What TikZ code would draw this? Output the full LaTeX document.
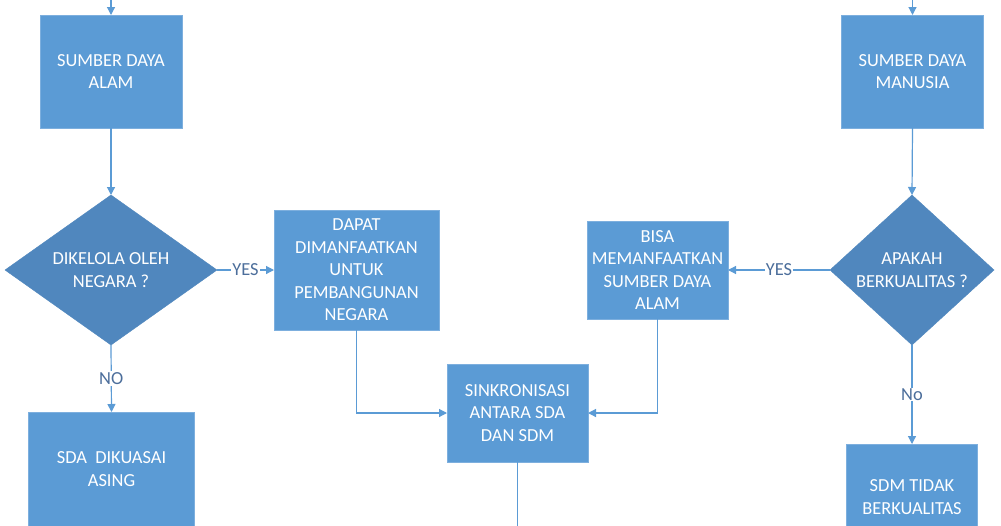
\documentclass[tikz,border=0pt]{standalone}
\usepackage{fontspec}
\setmainfont{Carlito}
\usetikzlibrary{shapes.geometric,arrows.meta}
\definecolor{boxfill}{RGB}{91,155,213}
\definecolor{boxline}{RGB}{125,175,222}
\definecolor{diafill}{RGB}{80,135,190}
\definecolor{conn}{RGB}{91,155,213}
\definecolor{lbltext}{RGB}{76,110,155}
\begin{document}
\begin{tikzpicture}[x=1pt,y=-1pt,
  font=\fontsize{18.4pt}{22.5pt}\selectfont,
  procbox/.style={rectangle,fill=boxfill,draw=boxline,line width=0.8pt,text=white,align=center,inner sep=0pt,outer sep=0pt},
  decbox/.style={diamond,fill=diafill,draw=diafill,text=white,align=center,inner sep=0pt,outer sep=0pt},
  conline/.style={draw=conn,line width=1.2pt,-{Triangle[length=8pt,width=8pt]}},
  plainline/.style={draw=conn,line width=1.2pt},
  lbl/.style={fill=white,text=lbltext,inner sep=1pt}]
\clip (0,0) rectangle (1001,525);
\fill[white] (0,0) rectangle (1001,525);

\node[procbox,minimum width=142pt,minimum height=113pt] (sda) at (111,71.5) {SUMBER DAYA\\ALAM};
\node[procbox,minimum width=142pt,minimum height=113pt] (sdm) at (912.5,71.5) {SUMBER DAYA\\MANUSIA};
\node[decbox,minimum width=212pt,minimum height=150pt,aspect=1.413] (d1) at (111,270) {DIKELOLA OLEH\\NEGARA ?};
\node[decbox,minimum width=164pt,minimum height=150pt,aspect=1.093] (d2) at (912,270) {APAKAH\\BERKUALITAS ?};
\node[procbox,minimum width=165pt,minimum height=120pt] (dapat) at (356.5,270) {DAPAT\\DIMANFAATKAN\\UNTUK\\PEMBANGUNAN\\NEGARA};
\node[procbox,minimum width=141pt,minimum height=98pt] (bisa) at (657.5,270) {BISA\\MEMANFAATKAN\\SUMBER DAYA\\ALAM};
\node[procbox,minimum width=141pt,minimum height=98pt] (sink) at (517.5,413) {SINKRONISASI\\ANTARA SDA\\DAN SDM};
\node[procbox,minimum width=166pt,minimum height=114pt] (asing) at (111.5,469) {SDA\ \ DIKUASAI\\ASING};
\node[procbox,minimum width=131pt,minimum height=106pt] (tidak) at (912,497) {SDM TIDAK\\BERKUALITAS};

\coordinate (t1) at (111,-5);
\coordinate (t2) at (912.5,-5);
\coordinate (b1) at (517.5,535);

\draw[conline] (t1) -- (sda.north);
\draw[conline] (t2) -- (sdm.north);
\draw[conline] (sda.south) -- (d1.north);
\draw[conline] (sdm.south) -- (d2.north);
\draw[conline] (d1.east) -- node[lbl]{YES} (dapat.west);
\draw[conline] (d2.west) -- node[lbl]{YES} (bisa.east);
\draw[conline] (d1.south) -- node[lbl]{NO} (asing.north);
\draw[conline] (d2.south) -- node[lbl]{No} (tidak.north);
\draw[conline] (dapat.south) |- (sink.west);
\draw[conline] (bisa.south) |- (sink.east);
\draw[plainline] (sink.south) -- (b1);
\end{tikzpicture}
\end{document}
